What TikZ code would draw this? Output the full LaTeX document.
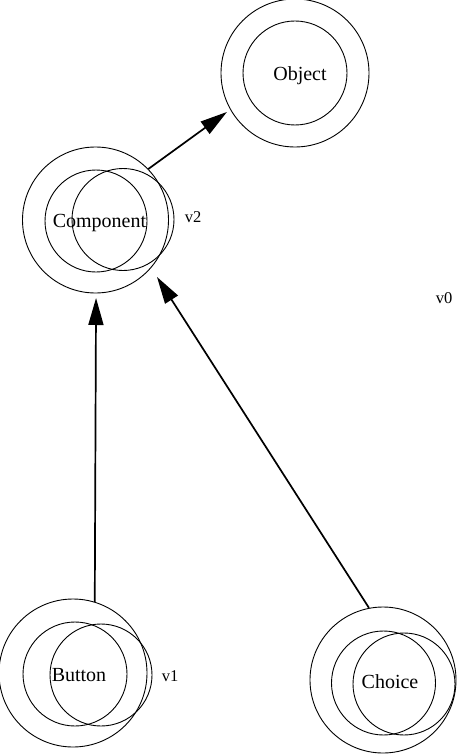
\documentclass[tikz,border=0pt]{standalone}
\usepackage{fontspec}
\setmainfont{Liberation Serif}
\usetikzlibrary{arrows.meta,calc}
\begin{document}
\begin{tikzpicture}[x=1pt,y=1pt,
  ring/.style={circle,draw,line width=0.9pt,inner sep=0pt,minimum size=#1},
  lbl/.style={font=\fontsize{20}{24}\selectfont,inner sep=0pt},
  vlbl/.style={font=\fontsize{16.5}{20}\selectfont,inner sep=0pt},
  arr/.style={line width=1.7pt,-{Triangle[length=27pt,width=15pt]}}]
\useasboundingbox (0,0) rectangle (456,-754);
% Object
\node[ring=148pt] (obj) at (295,-73) {};
\node[ring=104pt] (objIn) at (295,-73) {};
\node[lbl] (objT) at (300,-76) {Object};
% Component
\node[ring=146pt] (comp) at (95.5,-220) {};
\node[ring=102pt] (compA) at (96,-221) {};
\node[ring=102pt] (compB) at (123,-219.5) {};
\node[lbl] (compT) at (99.5,-223.5) {Component};
\node[vlbl] (v2) at (193,-217) {v2};
% Button
\node[ring=148pt] (btn) at (73,-673) {};
\node[ring=104pt] (btnA) at (75,-674) {};
\node[ring=102pt] (btnB) at (101,-675) {};
\node[lbl] (btnT) at (79,-675.5) {Button};
\node[vlbl] (v1) at (170,-676) {v1};
% Choice
\node[ring=146pt] (cho) at (383,-680) {};
\node[ring=104pt] (choA) at (383.5,-683) {};
\node[ring=102pt] (choB) at (404,-684) {};
\node[lbl] (choT) at (390,-681.5) {Choice};
% v0
\node[vlbl] (v0) at (444,-298) {v0};
% edges
\draw[arr] (comp.44) -- ($(obj)+(209.8:78.4)$);
\draw[arr] (btn.73) -- ($(comp)+(270.4:78)$);
\draw[arr] (cho.101) -- ($(comp)+(-42.8:83.8)$);
\end{tikzpicture}
\end{document}
